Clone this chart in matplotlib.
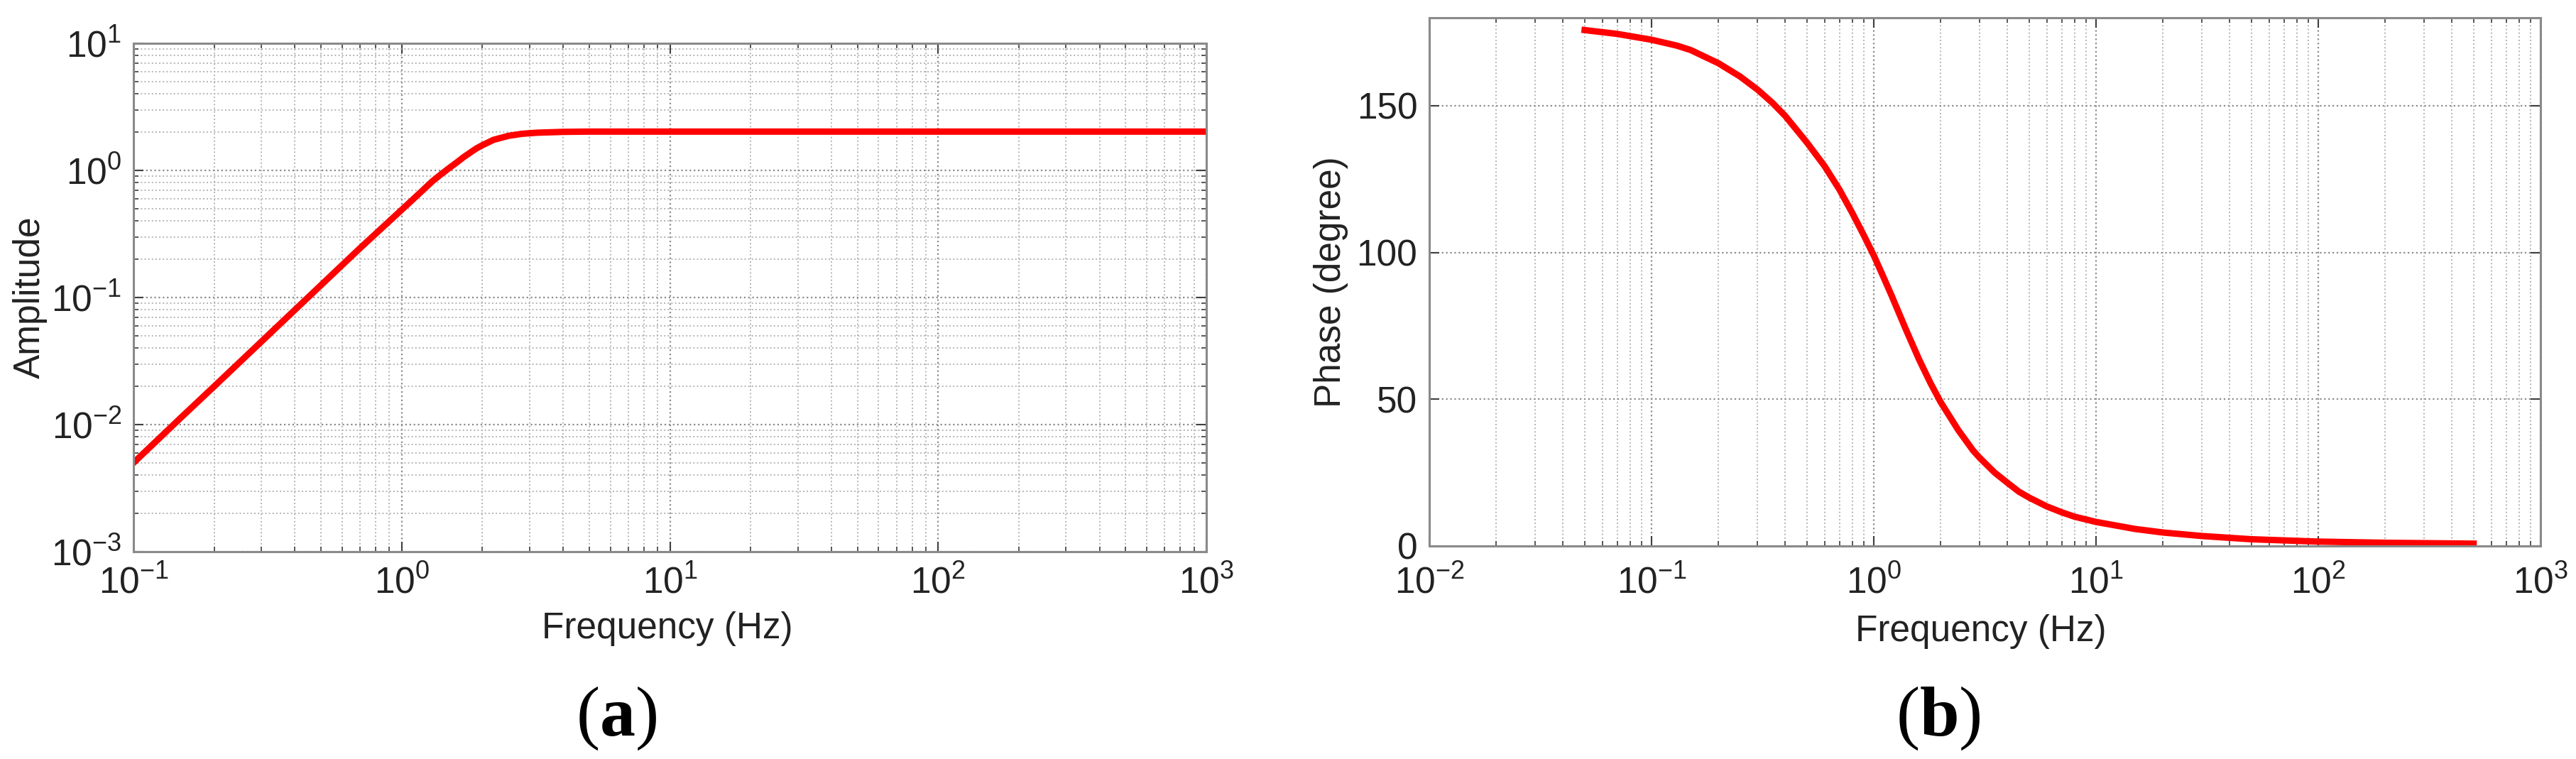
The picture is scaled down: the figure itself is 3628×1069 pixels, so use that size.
import matplotlib
matplotlib.use("Agg")
import matplotlib.pyplot as plt
from matplotlib.ticker import LogLocator, NullFormatter, FixedLocator

plt.rcParams["font.family"] = ["Liberation Sans", "DejaVu Sans"]
plt.rcParams["mathtext.fontset"] = "custom"
plt.rcParams["mathtext.rm"] = "Liberation Serif"
plt.rcParams["mathtext.bf"] = "Liberation Serif:bold"

# amplitude curve (a)
amp_freq = [0.1, 0.15, 0.2, 0.3, 0.4, 0.5, 0.7, 1.0, 1.1, 1.2, 1.3, 1.4,
            1.5, 1.6, 1.7, 1.8, 1.9, 2.0, 2.2, 2.5, 2.8, 3.2, 4.0, 5.0,
            7.0, 10, 30, 100, 300, 1000]
amp_vals = [0.005, 0.0113, 0.020, 0.045, 0.080, 0.125, 0.245, 0.49, 0.59,
            0.70, 0.82, 0.93, 1.04, 1.15, 1.27, 1.38, 1.49, 1.58, 1.74,
            1.87, 1.94, 1.98, 2.01, 2.02, 2.02, 2.02, 2.02, 2.02, 2.02,
            2.02]

# phase curve (b)
ph_freq = [0.05, 0.07, 0.1, 0.13, 0.15, 0.2, 0.25, 0.3, 0.35, 0.4, 0.5,
           0.6, 0.7, 0.8, 0.9, 1.0, 1.1, 1.2, 1.4, 1.6, 1.8, 2.0, 2.4,
           2.8, 3.0, 3.5, 4.0, 4.5, 5.0, 6.0, 7.0, 8.0, 10, 15, 20, 30,
           50, 100, 200, 500]
ph_vals = [175.8, 174.5, 172.5, 170.5, 169, 164.5, 160, 155.5, 151, 146.5,
           137.5, 129.5, 121.5, 113.5, 106, 99, 92, 85.5, 73.5, 63.5, 55.5,
           49, 39.5, 32.5, 30, 25, 21.5, 18.5, 16.5, 13.5, 11.5, 10, 8.2,
           5.8, 4.6, 3.4, 2.3, 1.5, 1.1, 0.8]

phase_ticks = [0, 50, 100, 150]

W, H = 3628, 1069
fig = plt.figure(figsize=(W / 100, H / 100), dpi=100)

ax1 = fig.add_axes([188 / W, 1 - 777 / H, 1511 / W, 716 / H])
ax2 = fig.add_axes([2013 / W, 1 - 769 / H, 1565 / W, 744 / H])

red = "#ff0000"
spine_c = "#8a8a8a"
tick_fs = 37


def style(ax, xpad):
    for s in ax.spines.values():
        s.set_color(spine_c)
        s.set_linewidth(2.2)
    ax.tick_params(which="both", direction="in", top=True, right=True,
                   color="#404040", labelsize=tick_fs, labelcolor="#222222")
    ax.tick_params(which="major", length=10, width=1.5)
    ax.tick_params(which="minor", length=5, width=1.2)
    ax.tick_params(axis="y", pad=12)
    ax.tick_params(axis="x", pad=xpad)


# ----- (a) amplitude -----
ax1.loglog(amp_freq, amp_vals, color=red, linewidth=6.5)
ax1.set_xlim(0.1, 1000)
ax1.set_ylim(1e-3, 10)
ax1.xaxis.set_major_locator(LogLocator(base=10, numticks=10))
ax1.yaxis.set_major_locator(LogLocator(base=10, numticks=10))
ax1.xaxis.set_minor_locator(LogLocator(base=10, subs=range(2, 10), numticks=20))
ax1.yaxis.set_minor_locator(LogLocator(base=10, subs=range(2, 10), numticks=20))
ax1.xaxis.set_minor_formatter(NullFormatter())
ax1.yaxis.set_minor_formatter(NullFormatter())
ax1.grid(True, which="major", linestyle=":", color="#8c8c8c", linewidth=1.6)
ax1.grid(True, which="minor", linestyle=":", color="#b4b4b4", linewidth=1.4)
style(ax1, 14)

# ----- (b) phase -----
ax2.semilogx(ph_freq, ph_vals, color=red, linewidth=6.5)
ax2.set_xlim(0.01, 1000)
ax2.set_ylim(0, 180)
ax2.xaxis.set_major_locator(LogLocator(base=10, numticks=10))
ax2.xaxis.set_minor_locator(LogLocator(base=10, subs=range(2, 10), numticks=20))
ax2.xaxis.set_minor_formatter(NullFormatter())
ax2.yaxis.set_major_locator(FixedLocator(phase_ticks))
ax2.grid(True, which="major", linestyle=":", color="#8c8c8c", linewidth=1.6)
ax2.grid(True, which="minor", axis="x", linestyle=":", color="#b4b4b4",
         linewidth=1.4)
style(ax2, 20)

# axis labels
lab_fs = 37
fig.text(940 / W, 1 - 885 / H, "Frequency (Hz)", ha="center", va="center",
         fontsize=lab_fs, color="#222222")
fig.text(2790 / W, 1 - 890 / H, "Frequency (Hz)", ha="center", va="center",
         fontsize=lab_fs, color="#222222")
fig.text(42 / W, 1 - 419 / H, "Amplitude", ha="center", va="center",
         rotation=90, fontsize=lab_fs, color="#222222")
fig.text(1875 / W, 1 - 397 / H, "Phase (degree)", ha="center", va="center",
         rotation=90, fontsize=lab_fs, color="#222222")

# panel letters
fig.text(868 / W, 1 - 1012 / H, r"$\mathrm{(}\mathbf{a}\mathrm{)}$",
         ha="center", va="center", fontsize=72)
fig.text(2730 / W, 1 - 1012 / H, r"$\mathrm{(}\mathbf{b}\mathrm{)}$",
         ha="center", va="center", fontsize=72)

fig.savefig("out.png", dpi=100)
